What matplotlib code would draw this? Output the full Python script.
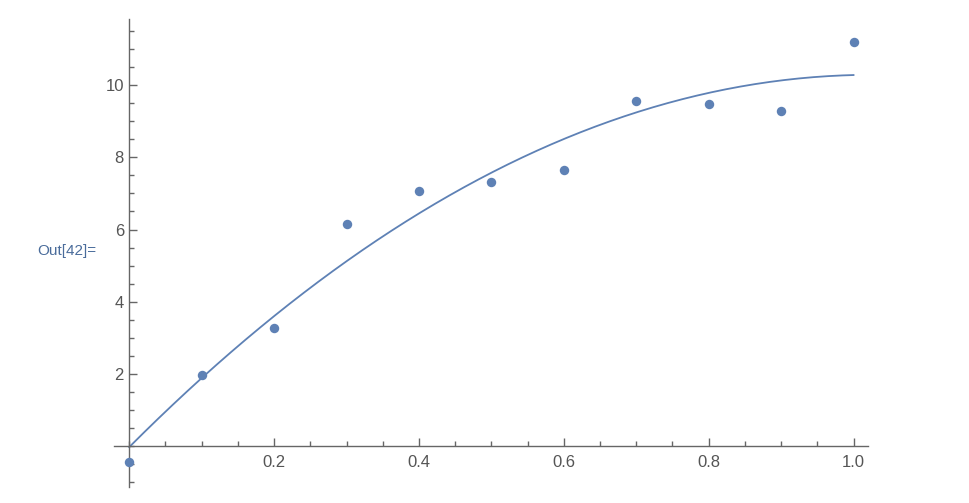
import numpy as np
import matplotlib
matplotlib.use('Agg')
import matplotlib.pyplot as plt
from matplotlib.ticker import MultipleLocator, FixedLocator

# data points
xs = [0.0, 0.1, 0.2, 0.3, 0.4, 0.5, 0.6, 0.7, 0.8, 0.9, 1.0]
ys = [-0.44, 1.98, 3.28, 6.16, 7.07, 7.33, 7.65, 9.56, 9.47, 9.29, 11.19]

xticks = [0.2, 0.4, 0.6, 0.8, 1.0]
yticks = [2, 4, 6, 8, 10]

blue = '#5E81B5'
axcol = '#666666'
labcol = '#555555'

plt.rcParams['font.family'] = ['Liberation Sans', 'DejaVu Sans']

fig = plt.figure(figsize=(9.69, 5.03), dpi=100)
ax = fig.add_axes([114/969, 1-487/503, (868-114)/969, (487-19)/503])

# quadratic least-squares fit, like Fit[data, {1, x, x^2}, x]
coef = np.polyfit(xs, ys, 2)
xf = np.linspace(0, 1, 200)
ax.plot(xf, np.polyval(coef, xf), color=blue, lw=1.3, zorder=2)
ax.plot(xs, ys, 'o', color=blue, ms=6.8, mec='none', zorder=3)

ax.set_xlim(-0.021, 1.02)
ax.set_ylim(-1.13, 11.83)

for s in ['top', 'right']:
    ax.spines[s].set_visible(False)
ax.spines['left'].set_position(('data', 0))
ax.spines['bottom'].set_position(('data', 0))
for s in ['left', 'bottom']:
    ax.spines[s].set_color(axcol)
    ax.spines[s].set_linewidth(1.0)

ax.xaxis.set_major_locator(FixedLocator(xticks))
ax.yaxis.set_major_locator(FixedLocator(yticks))
ax.xaxis.set_minor_locator(MultipleLocator(0.05))
ax.yaxis.set_minor_locator(MultipleLocator(0.5))
ax.set_xticklabels(['%.1f' % v for v in xticks])
ax.set_yticklabels([str(v) for v in yticks])

ax.tick_params(which='both', direction='in', color=axcol, width=1.0,
               labelcolor=labcol, labelsize=12)
ax.tick_params(which='major', length=6)
ax.tick_params(which='minor', length=3.5)
ax.tick_params(axis='x', pad=6)
ax.tick_params(axis='y', pad=3.8)

fig.text(37/969, 1-251/503, 'Out[42]=', color='#4a6c9b', fontsize=11,
         ha='left', va='center')

fig.savefig('out.png', dpi=100)
